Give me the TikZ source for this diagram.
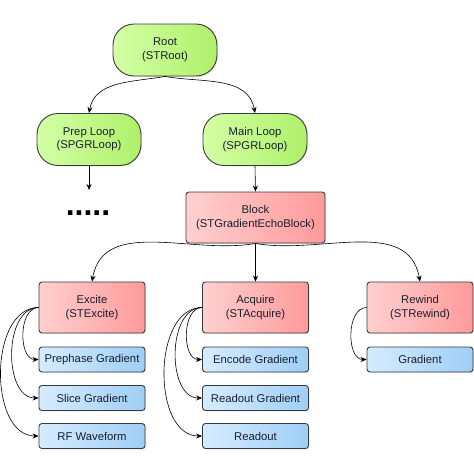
\documentclass[tikz,border=0pt]{standalone}
\usepackage{fontspec}
\setmainfont{Liberation Sans}
\usetikzlibrary{arrows.meta,positioning,shadows}
\definecolor{ink}{HTML}{1A1F2E}
\definecolor{edge}{HTML}{3A3A3A}
\definecolor{leafL}{HTML}{D4FFA6}
\definecolor{leafR}{HTML}{AEF06A}
\definecolor{roseL}{HTML}{FFD0D0}
\definecolor{roseR}{HTML}{FF9A9A}
\definecolor{skyL}{HTML}{D6ECFF}
\definecolor{skyR}{HTML}{9ECEF6}

\tikzset{
  basebox/.style={draw=edge,line width=0.9pt,text=ink,align=center,
    font=\fontsize{11.3}{13.5}\selectfont,inner sep=2pt,
    drop shadow={opacity=0.18,shadow xshift=1pt,shadow yshift=-1pt}},
  loopbox/.style={basebox,rounded corners=21pt,minimum width=104pt,minimum height=52pt,
    left color=leafL,right color=leafR},
  stepbox/.style={basebox,rounded corners=3pt,minimum width=106pt,minimum height=51pt,
    left color=roseL,right color=roseR},
  leafbox/.style={basebox,rounded corners=3pt,minimum width=106pt,minimum height=25pt,
    left color=skyL,right color=skyR},
  link/.style={-{Stealth[length=6pt,width=5pt]},line width=0.6pt,black}
}

\begin{document}
\begin{tikzpicture}[x=1pt,y=1pt]
  \useasboundingbox (0,0) rectangle (474,-474);

  % sequence tree
  \node[loopbox] (root) at (165,-50)    {Root\\(STRoot)};
  \node[loopbox] (prep) at (89,-139.5)  {Prep Loop\\(SPGRLoop)};
  \node[loopbox] (main) at (255,-139.5) {Main Loop\\(SPGRLoop)};
  \node[stepbox,minimum width=139pt] (block) at (255.5,-217.5) {Block\\(STGradientEchoBlock)};

  \foreach \n/\x/\txt in {exc/92/{Excite\\(STExcite)},acq/255.5/{Acquire\\(STAcquire)},rew/420/{Rewind\\(STRewind)}}
    \node[stepbox] (\n) at (\x,-307.5) {\txt};

  \foreach \n/\x/\y/\txt in {pg/92/359.5/Prephase Gradient,sg/92/398/Slice Gradient,rf/92/436/RF Waveform,
      eg/255.5/359.5/Encode Gradient,rg/255.5/398/Readout Gradient,ro/255.5/436/Readout,gr/420/359.5/Gradient}
    \node[leafbox] (\n) at (\x,-\y) {\txt};

  \coordinate (prepout) at (89,-190);
  \node[font=\fontsize{32}{32}\bfseries\selectfont,inner sep=0pt] (dots) at (88,-213) {.....};

  % connectors
  \draw[link] (root.south) to[out=190,in=80] (prep.north);
  \draw[link] (root.south) to[out=-10,in=100] (main.north);
  \draw[link] (prep.south) -- (prepout);
  \draw[link] (main.south) -- (block.north);
  \draw[link] (block.south) to[out=190,in=80] (exc.north);
  \draw[link] (block.south) -- (acq.north);
  \draw[link] (block.south) to[out=-10,in=100] (rew.north);

  \foreach \p/\c in {exc/pg,exc/sg,exc/rf,acq/eg,acq/rg,acq/ro,rew/gr}
    \draw[link] (\p.west) to[out=180,in=180,looseness=1] (\c.west);
\end{tikzpicture}
\end{document}
